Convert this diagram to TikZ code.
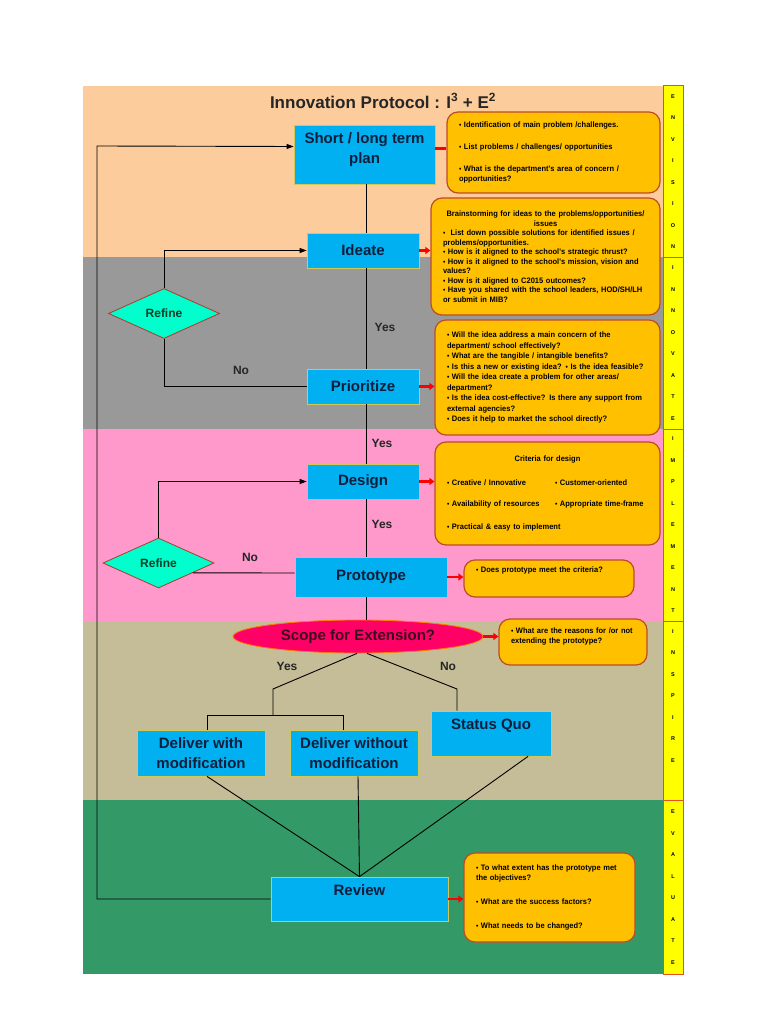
\documentclass[tikz,border=0pt]{standalone}
\usepackage{fontspec}
\setmainfont{Liberation Sans}
\newfontfamily\notefont[FakeStretch=0.95]{Liberation Sans}
\usetikzlibrary{shapes.geometric,arrows.meta}
\definecolor{peach}{RGB}{252,204,156}
\definecolor{bandgrey}{RGB}{153,153,153}
\definecolor{bandpink}{RGB}{255,153,204}
\definecolor{bandtan}{RGB}{196,189,151}
\definecolor{bandgreen}{RGB}{51,153,102}
\definecolor{boxblue}{RGB}{0,176,240}
\definecolor{boxedge}{RGB}{210,200,90}
\definecolor{boxtext}{RGB}{15,30,60}
\definecolor{notefill}{RGB}{255,192,0}
\definecolor{noteedge}{RGB}{190,75,40}
\definecolor{refinefill}{RGB}{0,255,204}
\definecolor{refineedge}{RGB}{170,60,40}
\definecolor{refinetext}{RGB}{10,60,40}
\definecolor{scopefill}{RGB}{255,0,102}
\definecolor{scopetext}{RGB}{60,10,30}
\definecolor{sidefill}{RGB}{255,255,0}
\definecolor{sideedge}{RGB}{230,80,30}
\newcommand{\bl}{{\fontsize{7}{7}\selectfont\textbullet}\ }
\tikzset{
pbox/.style={draw=boxedge, fill=boxblue, line width=0.8pt, text=boxtext, font=\bfseries\fontsize{15}{20}\selectfont, align=center, inner sep=0pt},
note/.style={draw=noteedge, fill=notefill, line width=1.2pt, rounded corners=11pt, font=\notefont\bfseries\fontsize{7.9}{9.5}\selectfont, align=left, inner xsep=12pt, inner ysep=0pt},
refine/.style={diamond, aspect=2.2, draw=refineedge, fill=refinefill, line width=0.8pt, minimum width=111pt, minimum height=50pt, inner sep=0pt, text=refinetext, font=\bfseries\fontsize{12}{12}\selectfont},
oval/.style={ellipse, draw=orange, fill=scopefill, line width=0.8pt, minimum width=250pt, minimum height=33pt, inner sep=0pt, text=scopetext, font=\bfseries\fontsize{15}{15}\selectfont},
sidebox/.style={draw=sideedge, fill=sidefill, line width=1pt, minimum width=20pt, inner sep=0pt, align=center, font=\bfseries\fontsize{5.5}{21.5}\selectfont},
yn/.style={font=\bfseries\fontsize{12}{12}\selectfont, text=black!85},
flow/.style={draw=black, line width=0.9pt},
arr/.style={flow, -{Triangle[length=7pt,width=5pt]}},
redbar/.style={draw=red, line width=2.6pt},
redarr/.style={redbar, -{Triangle[length=5pt,width=7pt]}}
}
\begin{document}
\begin{tikzpicture}[x=1pt,y=-1pt]
\useasboundingbox (0,0) rectangle (768,1024);
\fill[peach] (83,86) rectangle (663,257);
\fill[bandgrey] (83,257) rectangle (663,429);
\fill[bandpink] (83,429) rectangle (663,621);
\fill[bandtan] (83,621) rectangle (663,800);
\fill[bandgreen] (83,800) rectangle (663,974);

\node[sidebox, minimum height=171pt] (envision) at (673,171.5) {E\\N\\V\\I\\S\\I\\O\\N};
\node[sidebox, minimum height=172pt] (innovate) at (673,343) {I\\N\\N\\O\\V\\A\\T\\E};
\node[sidebox, minimum height=192pt] (implement) at (673,525) {I\\M\\P\\L\\E\\M\\E\\N\\T};
\node[sidebox, minimum height=179pt] (inspire) at (673,710.5) {I\\N\\S\\P\\I\\R\\E\\[8pt]\mbox{}};
\node[sidebox, minimum height=174pt] (evaluate) at (673,887) {E\\V\\A\\L\\U\\A\\T\\E};

\node[font=\bfseries\fontsize{17}{17}\selectfont, text=black!85] (title) at (383,101) {Innovation Protocol : I\textsuperscript{3} + E\textsuperscript{2}};

\node[pbox, minimum width=141pt, minimum height=59pt] (short) at (364.5,154.5) {Short / long term\\plan\\[-8pt]\mbox{}};
\node[pbox, minimum width=112pt, minimum height=35pt] (ideate) at (363,250.5) {Ideate};
\node[pbox, minimum width=112pt, minimum height=35pt] (prio) at (363,386.5) {Prioritize};
\node[pbox, minimum width=112pt, minimum height=35pt] (design) at (363,481.5) {Design};
\node[pbox, minimum width=152pt, minimum height=40pt] (proto) at (371,577) {Prototype};
\node[oval] (scope) at (358,636.5) {Scope for Extension?};
\node[refine] (refa) at (164,313.5) {Refine};
\node[refine] (refb) at (158.5,563) {Refine};
\node[pbox, minimum width=128pt, minimum height=46pt] (dwith) at (201,753) {Deliver with\\modification};
\node[pbox, minimum width=128pt, minimum height=46pt] (dwo) at (354,753) {Deliver without\\modification};
\node[pbox, minimum width=120pt, minimum height=45pt] (status) at (491,733.5) {Status Quo\\[-1pt]\mbox{}};
\node[pbox, minimum width=177pt, minimum height=44pt] (review) at (359.5,899) {Review\\[-2pt]\mbox{}};

\node[note, minimum width=213pt, minimum height=81pt, text width=189pt] (c1) at (553.5,152.5) {\bl Identification of main problem /challenges.\\[12.5pt]\bl List problems / challenges/ opportunities\\[12.5pt]\bl What is the department's area of concern /\\opportunities?};
\node[note, minimum width=229pt, minimum height=117pt, text width=205pt] (c2) at (545.5,256.5) {\makebox[\hsize]{Brainstorming for ideas to the problems/opportunities/}\\\makebox[\hsize]{issues}\\\bl\ List down possible solutions for identified issues /\\problems/opportunities.\\\bl How is it aligned to the school's strategic thrust?\\\bl How is it aligned to the school's mission, vision and\\values?\\\bl How is it aligned to C2015 outcomes?\\\bl Have you shared with the school leaders, HOD/SH/LH\\or submit in MIB?};
\node[note, minimum width=225pt, minimum height=115pt, text width=201pt, font=\notefont\bfseries\fontsize{7.9}{10.5}\selectfont] (c3) at (547.5,377.5) {\bl Will the idea address a main concern of the\\department/ school effectively?\\\bl What are the tangible / intangible benefits?\\\bl Is this a new or existing idea? \bl Is the idea feasible?\\\bl Will the idea create a problem for other areas/\\department?\\\bl Is the idea cost-effective? Is there any support from\\external agencies?\\\bl Does it help to market the school directly?};
\node[note, minimum width=225pt, minimum height=103pt, text width=201pt] (c4) at (547.5,493.5) {\makebox[\hsize]{Criteria for design}\\[14.5pt]\makebox[108pt][l]{\bl Creative / Innovative}\bl Customer-oriented\\[11.5pt]\makebox[108pt][l]{\bl Availability of resources}\bl Appropriate time-frame\\[13.5pt]\bl Practical \& easy to implement};
\node[note, minimum width=170pt, minimum height=37pt, text width=146pt] (c5) at (549,578.5) {\bl Does prototype meet the criteria?\\[8pt]\mbox{}};
\node[note, minimum width=148pt, minimum height=46pt, text width=124pt] (c6) at (573,642) {\bl What are the reasons for /or not\\extending the prototype?\\[3pt]\mbox{}};
\node[note, minimum width=171pt, minimum height=89pt, text width=147pt] (c7) at (549.5,897.5) {\bl To what extent has the prototype met\\the objectives?\\[14.5pt]\bl What are the success factors?\\[14.5pt]\bl What needs to be changed?};

\coordinate (spine) at (366,0);
\coordinate (loopx) at (97,146);
\coordinate (yesk) at (273,689);
\coordinate (nok) at (457,689);
\coordinate (forkl) at (207,715);
\coordinate (forkr) at (343,715);

\draw[flow] (short.south -| spine) -- (ideate.north -| spine);
\draw[flow] (ideate.south -| spine) -- (prio.north -| spine);
\draw[flow] (prio.south -| spine) -- (design.north -| spine);
\draw[flow] (design.south -| spine) -- (proto.north -| spine);
\draw[flow] (proto.south -| spine) -- (scope.north -| spine);
\draw[arr] (refa.north) |- (ideate.west);
\draw[flow] (refa.south) |- (prio.west);
\draw[arr] (refb.north) |- (design.west);
\draw[flow] ([yshift=4pt]proto.west) -- (refb.-16);
\draw[arr] (review.west) -| (loopx) -- ([yshift=8pt]short.west);
\draw[flow] ([xshift=-1pt]scope.south) -- (yesk) -- (yesk |- forkl);
\draw[flow] ([xshift=9pt]scope.south) -- (nok) -- (nok |- status.north);
\draw[flow] (forkl |- dwith.north) -- (forkl) -- (forkr) -- (forkr |- dwo.north);
\draw[flow] ([xshift=6pt]dwith.south) -- (review.north);
\draw[flow] ([xshift=4pt]dwo.south) -- (review.north);
\draw[flow] ([xshift=37pt]status.south) -- (review.north);

\draw[redbar] ([yshift=6pt]short.east) -- ([yshift=6pt]short.east -| c1.west);
\draw[redarr] (ideate.east) -- (ideate.east -| c2.west);
\draw[redarr] (prio.east) -- (prio.east -| c3.west);
\draw[redarr] (design.east) -- (design.east -| c4.west);
\draw[redarr] (proto.east) -- (proto.east -| c5.west);
\draw[redarr] (scope.east) -- (scope.east -| c6.west);
\draw[redarr] (review.east) -- (review.east -| c7.west);

\node[yn] (yes1) at (385,327) {Yes};
\node[yn] (no1) at (241,370) {No};
\node[yn] (yes2) at (382,443) {Yes};
\node[yn] (yes3) at (382,524) {Yes};
\node[yn] (no2) at (250,557) {No};
\node[yn] (yes4) at (287,666) {Yes};
\node[yn] (no3) at (448,666) {No};
\end{tikzpicture}
\end{document}
